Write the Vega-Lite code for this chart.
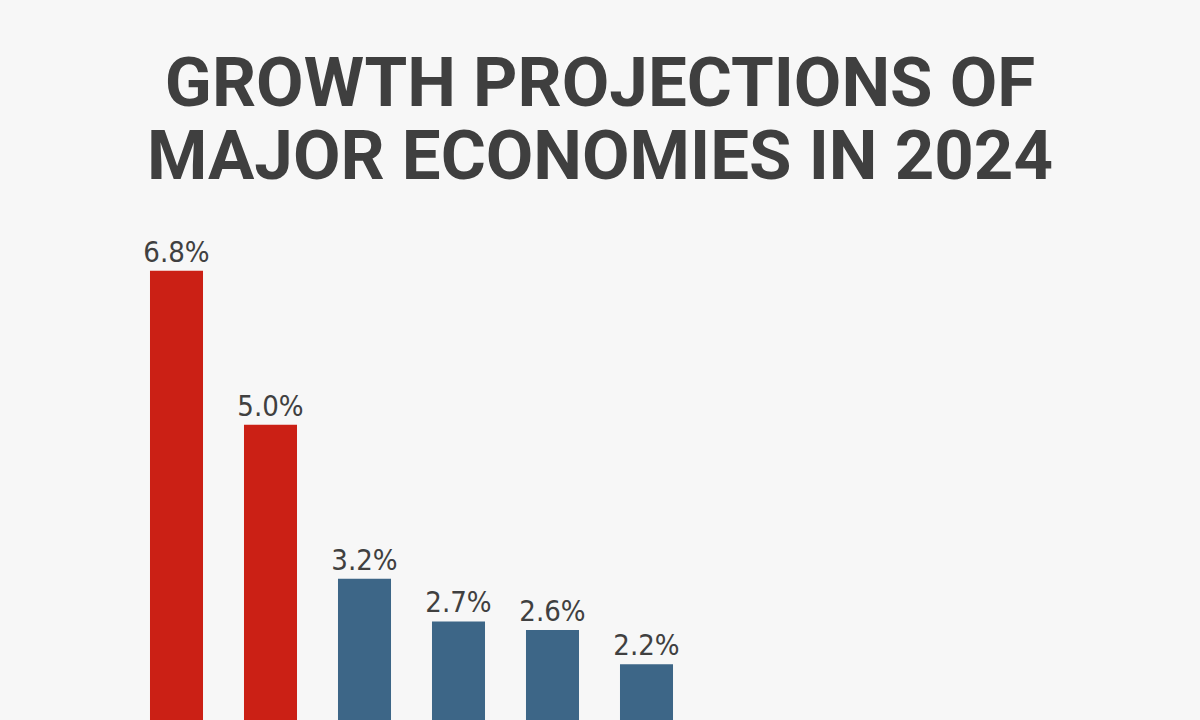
{
  "$schema": "https://vega.github.io/schema/vega-lite/v6.json",
  "width": 1200,
  "height": 641.25,
  "autosize": {"type": "none"},
  "padding": {"top": 211, "left": 0, "right": 0, "bottom": 0},
  "background": "#f7f7f7",
  "title": {
    "text": ["GROWTH PROJECTIONS OF", "MAJOR ECONOMIES IN 2024"],
    "font": "Roboto",
    "fontSize": 69,
    "fontWeight": "bold",
    "lineHeight": 73,
    "color": "#3f3f3f",
    "anchor": "middle",
    "frame": "group",
    "baseline": "alphabetic",
    "offset": -37
  },
  "data": {
    "values": [
      {"country": "India", "growth": 0.068, "group": "highlight"},
      {"country": "China", "growth": 0.050, "group": "highlight"},
      {"country": "Russia", "growth": 0.032, "group": "other"},
      {"country": "United States", "growth": 0.027, "group": "other"},
      {"country": "Spain", "growth": 0.026, "group": "other"},
      {"country": "Brazil", "growth": 0.022, "group": "other"}
    ]
  },
  "encoding": {
    "x": {
      "field": "country",
      "type": "nominal",
      "sort": null,
      "axis": null,
      "scale": {"range": [129.5, 693.5], "paddingInner": 0.436, "paddingOuter": 0.218}
    },
    "y": {
      "field": "growth",
      "type": "quantitative",
      "axis": null,
      "scale": {"domain": [0, 0.075], "nice": false}
    }
  },
  "layer": [
    {
      "mark": {"type": "bar"},
      "encoding": {
        "color": {
          "field": "group",
          "type": "nominal",
          "legend": null,
          "scale": {"domain": ["highlight", "other"], "range": ["#cb2015", "#3d6687"]}
        }
      }
    },
    {
      "mark": {
        "type": "text",
        "baseline": "alphabetic",
        "align": "center",
        "dy": -9,
        "font": "DejaVu Sans Condensed",
        "fontSize": 29,
        "color": "#404040"
      },
      "encoding": {
        "text": {"field": "growth", "type": "quantitative", "format": ".1%"}
      }
    }
  ],
  "config": {"view": {"stroke": null}}
}
